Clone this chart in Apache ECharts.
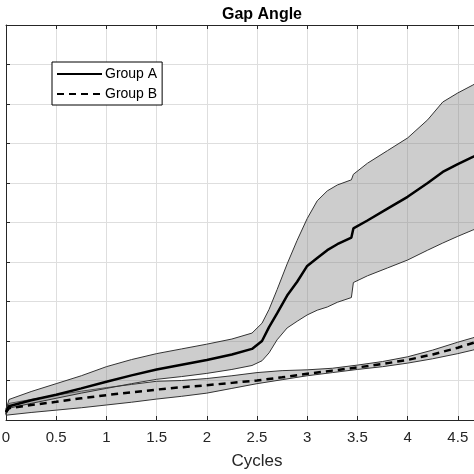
<!DOCTYPE html>
<html>
<head>
<meta charset="utf-8">
<script src="https://cdn.jsdelivr.net/npm/echarts@6/dist/echarts.min.js"></script>
<style>
  html, body { margin: 0; padding: 0; background: #fff; }
  #chart { width: 474px; height: 474px; }
</style>
</head>
<body>
<div id="chart"></div>
<script>
// x positions (cycles) and values
const xTicks = ['0', '0.5', '1', '1.5', '2', '2.5', '3', '3.5', '4', '4.5', ''];

const aX     = [0, 0.03, 0.25, 0.5, 0.75, 1.0, 1.25, 1.5, 1.75, 2.0, 2.25, 2.45, 2.55, 2.62, 2.7, 2.8, 2.9, 3.0, 3.1, 3.2, 3.3, 3.44, 3.46, 3.6, 3.8, 4.0, 4.2, 4.35, 4.5, 4.65, 4.8];
const aMean  = [0.2, 0.35, 0.5, 0.64, 0.8, 0.97, 1.13, 1.28, 1.4, 1.52, 1.66, 1.8, 2.0, 2.35, 2.7, 3.15, 3.5, 3.9, 4.1, 4.3, 4.45, 4.62, 4.85, 5.05, 5.35, 5.65, 6.0, 6.28, 6.48, 6.66, 6.85];
const aUpper = [0.25, 0.52, 0.72, 0.92, 1.12, 1.35, 1.53, 1.68, 1.8, 1.92, 2.05, 2.2, 2.45, 2.8, 3.3, 3.95, 4.55, 5.1, 5.55, 5.8, 5.95, 6.08, 6.22, 6.5, 6.82, 7.14, 7.6, 8.05, 8.28, 8.48, 8.7];
const aLower = [0.15, 0.3, 0.42, 0.55, 0.68, 0.8, 0.92, 1.03, 1.1, 1.18, 1.28, 1.38, 1.5, 1.7, 2.03, 2.33, 2.5, 2.66, 2.78, 2.86, 2.98, 3.1, 3.48, 3.65, 3.85, 4.05, 4.3, 4.48, 4.65, 4.81, 4.95];

const bX     = [0, 0.03, 0.25, 0.5, 0.75, 1.0, 1.25, 1.5, 1.75, 2.0, 2.25, 2.5, 2.75, 3.0, 3.25, 3.5, 3.75, 4.0, 4.25, 4.5, 4.65, 4.8];
const bMean  = [0.2, 0.3, 0.38, 0.46, 0.55, 0.63, 0.7, 0.77, 0.83, 0.88, 0.94, 1.0, 1.08, 1.17, 1.25, 1.33, 1.42, 1.52, 1.66, 1.83, 1.95, 2.07];
const bUpper = [0.3, 0.42, 0.52, 0.63, 0.73, 0.82, 0.9, 0.98, 1.0, 1.05, 1.12, 1.2, 1.25, 1.27, 1.31, 1.39, 1.48, 1.6, 1.77, 1.97, 2.08, 2.2];
const bLower = [0.12, 0.13, 0.19, 0.25, 0.31, 0.38, 0.45, 0.53, 0.6, 0.68, 0.8, 0.92, 1.02, 1.12, 1.2, 1.28, 1.35, 1.44, 1.55, 1.68, 1.77, 1.88];

const axisColor = '#262626';
const font = 'Liberation Sans, Arial, sans-serif';

const pairs = (xs, ys) => xs.map((x, i) => [x, ys[i]]);

// shaded band between lower and upper, drawn as one polygon through the axes
const band = (name, xs, lo, hi) => ({
  name: name,
  type: 'custom',
  z: 2,
  silent: true,
  data: [[xs[0], lo[0]]],
  renderItem: (params, api) => {
    const top = xs.map((x, i) => api.coord([x, hi[i]]));
    const bottom = xs.map((x, i) => api.coord([x, lo[i]])).reverse();
    return {
      type: 'polygon',
      shape: { points: top.concat(bottom) },
      style: { fill: 'rgba(130,130,130,0.4)', stroke: '#333', lineWidth: 1 }
    };
  }
});

const chart = echarts.init(document.getElementById('chart'));

const option = {
  animation: false,
  title: {
    text: 'Gap Angle',
    left: 257,
    top: 2,
    textAlign: 'center',
    textStyle: { fontFamily: font, fontSize: 16, fontWeight: 'bold', color: '#000' }
  },
  legend: {
    data: ['Group A', 'Group B'],
    orient: 'vertical',
    left: 52,
    top: 62,
    padding: [5, 5, 4, 4],
    itemGap: 6,
    itemWidth: 45,
    itemHeight: 14,
    backgroundColor: '#fff',
    borderColor: '#000',
    borderWidth: 1,
    borderRadius: 0,
    itemStyle: { color: 'rgba(0,0,0,0)', borderColor: 'rgba(0,0,0,0)', borderWidth: 0 },
    textStyle: { fontFamily: font, fontSize: 14, color: '#000', padding: [0, 0, 0, -2] }
  },
  grid: { left: 6, top: 25, bottom: 54, right: -34, outerBoundsMode: 'none' },
  xAxis: [
    {
      type: 'value',
      min: 0,
      max: 5,
      interval: 0.5,
      name: 'Cycles',
      nameLocation: 'middle',
      nameGap: 33,
      nameTextStyle: { fontFamily: font, fontSize: 17, color: axisColor },
      axisLine: { lineStyle: { color: axisColor, width: 1 } },
      axisTick: { inside: true, length: 4, lineStyle: { color: axisColor } },
      axisLabel: {
        fontFamily: font, fontSize: 15, color: axisColor, margin: 10,
        formatter: v => xTicks[Math.round(v / 0.5)]
      },
      splitLine: { show: true, lineStyle: { color: '#dedede', width: 1 } }
    },
    {
      type: 'value',
      position: 'top',
      min: 0,
      max: 5,
      interval: 0.5,
      axisLine: { show: true, lineStyle: { color: axisColor, width: 1 } },
      axisTick: { show: true, inside: true, length: 4, lineStyle: { color: axisColor } },
      axisLabel: { show: false },
      splitLine: { show: false }
    }
  ],
  yAxis: {
    type: 'value',
    min: 0,
    max: 10,
    interval: 1,
    axisLine: { show: true, lineStyle: { color: axisColor, width: 1 } },
    axisTick: { show: true, inside: true, length: 4, lineStyle: { color: axisColor } },
    axisLabel: { show: false },
    splitLine: { show: true, lineStyle: { color: '#dedede', width: 1 } }
  },
  series: [
    band('bandB', bX, bLower, bUpper),
    band('bandA', aX, aLower, aUpper),
    {
      name: 'Group A',
      type: 'line',
      z: 5,
      data: pairs(aX, aMean),
      showSymbol: false,
      symbol: 'none',
      color: '#000',
      lineStyle: { color: '#000', width: 2.5 }
    },
    {
      name: 'Group B',
      type: 'line',
      z: 5,
      data: pairs(bX, bMean),
      showSymbol: false,
      symbol: 'none',
      color: '#000',
      lineStyle: { color: '#000', width: 2.5, type: [7, 5] }
    }
  ]
};

chart.setOption(option);
</script>
</body>
</html>
